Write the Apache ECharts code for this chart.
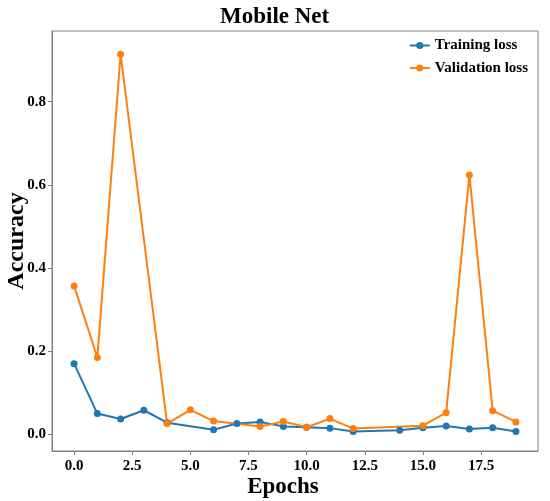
<!DOCTYPE html>
<html>
<head>
<meta charset="utf-8">
<script src="https://cdn.jsdelivr.net/npm/echarts@6/dist/echarts.min.js"></script>
<style>
html,body{margin:0;padding:0;background:#fff;}
#chart{width:550px;height:501px;}
</style>
</head>
<body>
<div id="chart"></div>
<script>
const trainEpochs = [0,1,2,3,4,6,7,8,9,10,11,12,14,15,16,17,18,19];
const trainLoss   = [0.170,0.050,0.037,0.058,0.028,0.011,0.026,0.030,0.019,0.017,0.015,0.007,0.010,0.016,0.020,0.013,0.016,0.007];
const valEpochs   = [0,1,2,4,5,6,8,9,10,11,12,15,16,17,18,19];
const valLoss     = [0.357,0.185,0.914,0.026,0.059,0.032,0.019,0.031,0.017,0.038,0.014,0.021,0.052,0.624,0.057,0.030];
const xTicks = [0,2.5,5,7.5,10,12.5,15,17.5];
const yTicks = [0,0.2,0.4,0.6,0.8];

const FONT = '"Liberation Serif", "Times New Roman", serif';
const AXIS_COLOR = '#808080';

const chart = echarts.init(document.getElementById('chart'), null, {renderer:'canvas'});
const pairs = (xs, ys) => xs.map((x,i)=>[x, ys[i]]);

chart.setOption({
  animation:false,
  backgroundColor:'#fff',
  title:{
    text:'Mobile Net', left:220, top:6, padding:0,
    textStyle:{fontFamily:FONT,fontWeight:'bold',fontSize:23,color:'#000'}
  },
  legend:{
    orient:'vertical', right:17, top:33, itemWidth:20, itemHeight:9, itemGap:7.5,
    textStyle:{fontFamily:FONT,fontWeight:'bold',fontSize:15,color:'#000'},
    data:['Training loss','Validation loss']
  },
  grid:{left:52,right:12,top:31,bottom:50,show:true,borderColor:AXIS_COLOR,borderWidth:1,backgroundColor:'transparent',containLabel:false,outerBoundsMode:'none'},
  xAxis:{
    type:'value', min:-0.95, max:19.95,
    name:'Epochs', nameLocation:'middle', nameGap:25, nameMoveOverlap:false,
    nameTextStyle:{fontFamily:FONT,fontWeight:'bold',fontSize:23,color:'#000',padding:[0,24,0,0]},
    splitLine:{show:false},
    axisLine:{show:true,onZero:false,lineStyle:{color:AXIS_COLOR}},
    axisTick:{show:true,inside:false,length:4,lineStyle:{color:AXIS_COLOR},customValues:xTicks},
    axisLabel:{margin:8,fontFamily:FONT,fontWeight:'bold',fontSize:15,color:'#000',customValues:xTicks,formatter:v=>Number(v).toFixed(1)}
  },
  yAxis:{
    type:'value', min:-0.04, max:0.97,
    name:'Accuracy', nameLocation:'middle', nameGap:23, nameRotate:90, nameMoveOverlap:false,
    nameTextStyle:{fontFamily:FONT,fontWeight:'bold',fontSize:24,color:'#000'},
    splitLine:{show:false},
    axisLine:{show:true,onZero:false,lineStyle:{color:AXIS_COLOR}},
    axisTick:{show:true,inside:false,length:4,lineStyle:{color:AXIS_COLOR},customValues:yTicks},
    axisLabel:{margin:6,fontFamily:FONT,fontWeight:'bold',fontSize:15,color:'#000',customValues:yTicks,formatter:v=>Number(v).toFixed(1)}
  },
  series:[
    {name:'Training loss',type:'line',data:pairs(trainEpochs,trainLoss),
     symbol:'circle',symbolSize:7,showAllSymbol:true,
     lineStyle:{width:2,color:'#1f77b4'},itemStyle:{color:'#1f77b4'}},
    {name:'Validation loss',type:'line',data:pairs(valEpochs,valLoss),
     symbol:'circle',symbolSize:7,showAllSymbol:true,
     lineStyle:{width:2,color:'#ff7f0e'},itemStyle:{color:'#ff7f0e'}}
  ]
});
</script>
</body>
</html>
